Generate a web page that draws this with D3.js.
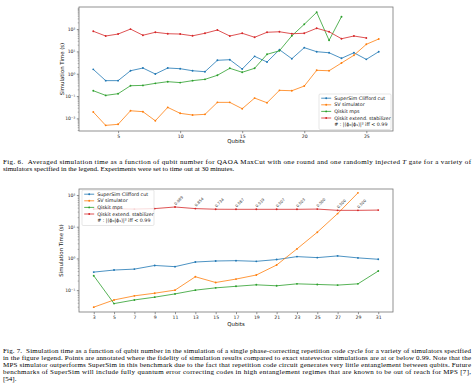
<!DOCTYPE html>
<html>
<head>
<meta charset="utf-8">
<script src="https://cdn.jsdelivr.net/npm/d3@7"></script>
<style>
  body { margin: 0; background: #fff; }
</style>
</head>
<body>
<div id="page"></div>
<script>
// Fig. 6 - QAOA MaxCut
var qaoaQubits = [3,4,5,6,7,8,9,10,11,12,13,14,15,16,17,18,19,20,21,22,23,24,25,26];
var qaoaSuperSim = [1.57,0.49,0.49,1.36,1.80,0.97,1.80,1.68,1.36,1.23,3.99,4.25,1.62,6.0,3.35,11.9,4.7,14.7,9.7,8.7,4.9,8.7,4.4,9.7];
var qaoaSV = [0.0192,0.00485,0.0054,0.0219,0.0199,0.0078,0.031,0.0168,0.0141,0.0151,0.052,0.052,0.027,0.081,0.050,0.18,0.173,0.28,1.42,1.36,3.02,6.7,20.8,36];
var qaoaMps = [0.173,0.107,0.127,0.29,0.30,0.37,0.44,0.40,0.49,0.56,0.85,1.75,1.16,1.75,7.4,10.7,50,164,565,31.5,360];
var qaoaStab = [80,49,60,100,53,72,62,60,50,65,91,49,65,43,72,76,62,65,109,76,37,49,40];
var qaoaXTicks = [5,10,15,20,25];
var qaoaYTicks = [0.01,0.1,1,10,100];

// Fig. 7 - repetition code
var repQubits = [3,5,7,9,11,13,15,17,19,21,23,25,27,29,31];
var repSuperSim = [0.37,0.43,0.46,0.60,0.55,0.77,0.83,0.85,0.81,0.92,1.14,1.06,1.20,1.04,0.94];
var repSV = [0.029,0.049,0.066,0.080,0.100,0.264,0.174,0.223,0.30,0.62,2.0,6.7,25.9,117];
var repMps = [0.284,0.0376,0.049,0.060,0.076,0.100,0.118,0.132,0.147,0.137,0.158,0.151,0.144,0.158,0.40];
var repStab = [36,37,36,37.3,41.9,37.3,35.6,35.4,35.4,35.4,35.4,36,32.9,32.9,33.5];
var repFidQubits = [11,13,15,17,19,21,23,25,27,29];
var repFidLabels = ["0.989","0.854","0.734","0.567","0.519","0.507","0.503","0.500","0.500","0.500"];
var repXTicks = [3,5,7,9,11,13,15,17,19,21,23,25,27,29,31];
var repYTicks = [0.1,1,10,100];

var seriesNames = ["SuperSim Clifford cut","SV simulator","Qiskit mps","Qiskit extend. stabilizer"];
var seriesColors = ["#1f77b4","#ff7f0e","#2ca02c","#d62728"];
var fidelityNote = "# : |\u27e8\u03d5\u2080|\u03d5\u2081\u27e9|\u00b2 iff < 0.99";

var caption6 = [
  ["Fig. 6.\u00a0\u00a0Averaged simulation time as a function of qubit number for QAOA MaxCut with one round and one randomly injected ", "T", " gate for a variety of"],
  ["simulators specified in the legend. Experiments were set to time out at 30 minutes."]
];
var caption7 = [
  "Fig. 7.\u00a0\u00a0Simulation time as a function of qubit number in the simulation of a single phase-correcting repetition code cycle for a variety of simulators specified",
  "in the figure legend. Points are annotated where the fidelity of simulation results compared to exact statevector simulations are at or below 0.99. Note that the",
  "MPS simulator outperforms SuperSim in this benchmark due to the fact that repetition code circuit generates very little entanglement between qubits. Future",
  "benchmarks of SuperSim will include fully quantum error correcting codes in high entanglement regimes that are known to be out of reach for MPS [7],",
  "[54]."
];

var svg = d3.select("#page").append("svg")
    .attr("width", 474)
    .attr("height", 384)
    .style("background", "#fff");

function supPow(v) {
  var e = Math.round(Math.log10(v));
  var map = {"-":"\u207b","0":"\u2070","1":"\u00b9","2":"\u00b2","3":"\u00b3"};
  return "10" + String(e).split("").map(function(c){ return map[c]; }).join("");
}

function zip(xs, vs) {
  return vs.map(function(v, i){ return {q: xs[i], v: v}; });
}

function drawPanel(p) {
  var x = d3.scaleLinear().domain(p.xDomain).range([p.left, p.right]);
  var y = d3.scaleLog().domain(p.yDomain).range([p.bottom, p.top]);
  var g = svg.append("g");

  // minor log ticks
  var minor = [];
  for (var k = -4; k < 4; k++)
    for (var m = 2; m < 10; m++) {
      var v = m * Math.pow(10, k);
      if (v > p.yDomain[0] && v < p.yDomain[1]) minor.push(v);
    }
  g.append("g")
    .attr("transform", "translate(" + p.left + ",0)")
    .call(d3.axisLeft(y).tickValues(minor).tickSize(1.3).tickFormat(""))
    .call(function(a){ a.select(".domain").remove(); a.selectAll("line").attr("stroke", "#555").attr("stroke-width", 0.45); });

  var ya = g.append("g")
    .attr("transform", "translate(" + p.left + ",0)")
    .call(d3.axisLeft(y).tickValues(p.yTicks).tickSize(2.2).tickPadding(1.5).tickFormat(supPow));
  ya.select(".domain").remove();
  ya.selectAll("line").attr("stroke", "#444").attr("stroke-width", 0.6);
  ya.selectAll("text").attr("font-size", 4.6).attr("font-family", "DejaVu Sans").attr("fill", "#222");

  var xa = g.append("g")
    .attr("transform", "translate(0," + p.bottom + ")")
    .call(d3.axisBottom(x).tickValues(p.xTicks).tickSize(2.2).tickPadding(1.5));
  xa.select(".domain").remove();
  xa.selectAll("line").attr("stroke", "#444").attr("stroke-width", 0.6);
  xa.selectAll("text").attr("font-size", 4.6).attr("font-family", "DejaVu Sans").attr("fill", "#222");

  // frame
  g.append("rect")
    .attr("x", p.left).attr("y", p.top)
    .attr("width", p.right - p.left).attr("height", p.bottom - p.top)
    .attr("fill", "none").attr("stroke", "#777").attr("stroke-width", 0.8);

  svg.append("clipPath").attr("id", p.id + "clip")
    .append("rect")
    .attr("x", p.left).attr("y", p.top)
    .attr("width", p.right - p.left).attr("height", p.bottom - p.top);

  var plot = g.append("g").attr("clip-path", "url(#" + p.id + "clip)");
  var line = d3.line().x(function(d){ return x(d.q); }).y(function(d){ return y(d.v); });

  p.series.forEach(function(s, i) {
    var data = zip(p.xs, s);
    plot.append("path")
      .datum(data)
      .attr("d", line)
      .attr("fill", "none")
      .attr("stroke", seriesColors[i])
      .attr("stroke-width", 0.8);
    plot.selectAll(".pt" + i)
      .data(data)
      .enter()
      .append("circle")
      .attr("cx", function(d){ return x(d.q); })
      .attr("cy", function(d){ return y(d.v); })
      .attr("r", 0.95)
      .attr("fill", seriesColors[i]);
  });

  if (p.notes) {
    p.notes.qubits.forEach(function(q, i) {
      var idx = p.xs.indexOf(q);
      var px = x(q) + 0.8, py = y(p.notes.values[idx]) - 1.8;
      g.append("text")
        .attr("transform", "translate(" + px + "," + py + ") rotate(-45)")
        .attr("font-size", 3.8)
        .attr("font-family", "DejaVu Sans")
        .attr("fill", "#333")
        .text(p.notes.labels[i]);
    });
  }

  // legend
  var lg = g.append("g");
  lg.append("rect")
    .attr("x", p.legend[0]).attr("y", p.legend[1])
    .attr("width", 72).attr("height", 35.5)
    .attr("rx", 1.2)
    .attr("fill", "#fff").attr("fill-opacity", 0.8)
    .attr("stroke", "#ccc").attr("stroke-width", 0.5);
  var rows = seriesNames.concat([fidelityNote]);
  rows.forEach(function(name, i) {
    var ry = p.legend[1] + 4.2 + i * 6.6;
    var lx = p.legend[0] + 2.2;
    if (i < seriesNames.length) {
      lg.append("line")
        .attr("x1", lx).attr("x2", lx + 10)
        .attr("y1", ry).attr("y2", ry)
        .attr("stroke", seriesColors[i]).attr("stroke-width", 0.8);
      lg.append("circle").attr("cx", lx + 5).attr("cy", ry).attr("r", 0.95).attr("fill", seriesColors[i]);
    }
    lg.append("text")
      .attr("x", lx + 13).attr("y", ry)
      .attr("dy", "0.35em")
      .attr("font-size", 4.8)
      .attr("font-family", "DejaVu Sans")
      .attr("fill", "#111")
      .text(name);
  });

  // axis labels
  g.append("text")
    .attr("transform", "translate(" + p.yLabelX + "," + ((p.top + p.bottom) / 2) + ") rotate(-90)")
    .attr("text-anchor", "middle")
    .attr("font-size", 5.4)
    .attr("font-family", "DejaVu Sans")
    .attr("fill", "#111")
    .text("Simulation Time (s)");
  g.append("text")
    .attr("x", (p.left + p.right) / 2).attr("y", p.xLabelY)
    .attr("text-anchor", "middle")
    .attr("font-size", 5.4)
    .attr("font-family", "DejaVu Sans")
    .attr("fill", "#111")
    .text("Qubits");
}

drawPanel({
  id: "f6", left: 79, right: 393, top: 7, bottom: 131,
  xDomain: [1.85, 27.15], yDomain: [Math.pow(10, -2.567), Math.pow(10, 2.99)],
  xTicks: qaoaXTicks, yTicks: qaoaYTicks,
  xs: qaoaQubits,
  series: [qaoaSuperSim, qaoaSV, qaoaMps, qaoaStab],
  legend: [319, 94],
  yLabelX: 64, xLabelY: 142.5
});

drawPanel({
  id: "f7", left: 79, right: 393, top: 189, bottom: 312,
  xDomain: [1.55, 32.45], yDomain: [Math.pow(10, -1.69), Math.pow(10, 2.19)],
  xTicks: repXTicks, yTicks: repYTicks,
  xs: repQubits,
  series: [repSuperSim, repSV, repMps, repStab],
  notes: {qubits: repFidQubits, labels: repFidLabels, values: repStab},
  legend: [82, 190],
  yLabelX: 63, xLabelY: 325.5
});

// captions
function captionLine(y, parts, justify) {
  var t = svg.append("text")
    .attr("x", 3).attr("y", y)
    .attr("font-size", 7)
    .attr("font-family", "Liberation Serif")
    .attr("fill", "#000")
    .attr("xml:space", "preserve");
  [].concat(parts).forEach(function(s) {
    var ts = t.append("tspan").text(s);
    if (s === "T") ts.attr("font-style", "italic");
  });
  if (justify) t.attr("textLength", 468).attr("lengthAdjust", "spacing");
}

caption6.forEach(function(l, i) {
  captionLine(163.5 + i * 7.6, l, i < caption6.length - 1);
});
caption7.forEach(function(l, i) {
  captionLine(352.5 + i * 7.2, l, i < caption7.length - 1);
});
</script>
</body>
</html>
